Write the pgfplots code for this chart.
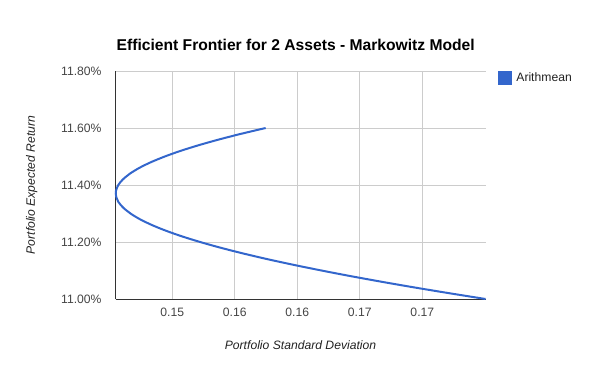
\documentclass[border=0pt]{standalone}
\usepackage{pgfplots}
\pgfplotsset{compat=1.18}
\usepackage{fontspec}
\setmainfont{Liberation Sans}
\definecolor{lineblue}{HTML}{3366CC}
\definecolor{gridgray}{HTML}{CCCCCC}
\definecolor{axisdark}{HTML}{333333}
\definecolor{ticktext}{HTML}{444444}
\definecolor{labeltext}{HTML}{222222}
\begin{document}
\begin{tikzpicture}[x=1bp,y=1bp]
\path (0,0) rectangle (600,371);
\begin{axis}[
  at={(115.5bp,72bp)}, anchor=south west,
  scale only axis, width=370.2bp, height=228bp,
  xmin=0.14546, xmax=0.17507, ymin=11, ymax=11.8,
  xtick={0.150,0.155,0.160,0.165,0.170},
  xticklabels={0.15,0.16,0.16,0.17,0.17},
  ytick={11,11.2,11.4,11.6,11.8},
  yticklabels={11.00\%,11.20\%,11.40\%,11.60\%,11.80\%},
  major tick length=0pt,
  grid=major, grid style={color=gridgray, line width=1bp},
  axis x line*=bottom, axis y line*=left,
  axis line style={color=axisdark, line width=1bp},
  tick label style={font=\fontsize{12.2}{14}\selectfont, text=ticktext},
  xticklabel style={yshift=-5bp},
  yticklabel style={xshift=-10.5bp},
  legend style={at={(1,1)}, anchor=north west, xshift=9bp, yshift=2bp, draw=none, fill=none,
    font=\fontsize{12.2}{14}\selectfont, text=labeltext,
    /tikz/every odd column/.append style={column sep=2.5bp}},
  legend image code/.code={\fill[lineblue] (0bp,-6bp) rectangle (12bp,6bp);},
  clip=false,
]
\addplot[color=lineblue, line width=2bp, smooth] coordinates {
(0.17506,11.00) (0.17220,11.02) (0.16944,11.04) (0.16681,11.06) (0.16430,11.08)
(0.16193,11.10) (0.15969,11.12) (0.15759,11.14) (0.15565,11.16) (0.15386,11.18)
(0.15223,11.20) (0.15076,11.22) (0.14947,11.24) (0.14835,11.26) (0.14741,11.28)
(0.14666,11.30) (0.14609,11.32) (0.14570,11.34) (0.14551,11.36) (0.14548,11.3706)
(0.14550,11.38) (0.14568,11.40) (0.14606,11.42) (0.14662,11.44) (0.14736,11.46)
(0.14829,11.48) (0.14940,11.50) (0.15068,11.52) (0.15214,11.54) (0.15376,11.56)
(0.15554,11.58) (0.15747,11.60)
};
\addlegendentry{Arithmean}
\end{axis}
\node[anchor=west, inner sep=0pt, font=\bfseries\fontsize{15.7}{18}\selectfont] at (116.5,326) {Efficient Frontier for 2 Assets - Markowitz Model};
\node[rotate=90, font=\itshape\fontsize{12.2}{14}\selectfont, text=labeltext] at (31.7,186) {Portfolio Expected Return};
\node[font=\itshape\fontsize{12.2}{14}\selectfont, text=labeltext] at (300.5,26) {Portfolio Standard Deviation};
\end{tikzpicture}
\end{document}
